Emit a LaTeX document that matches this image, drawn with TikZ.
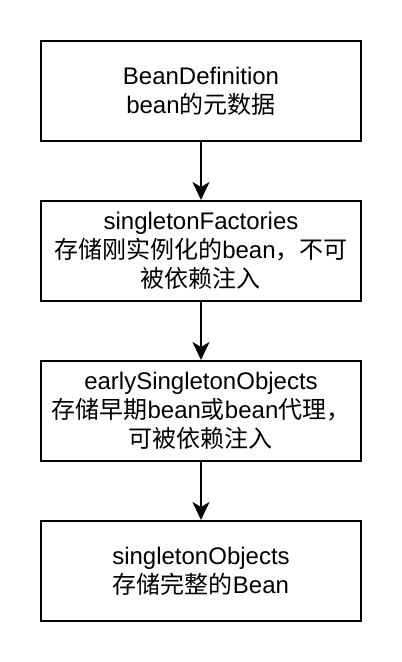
\documentclass[tikz,border=0pt]{standalone}
\usepackage{fontspec}
\setmainfont{Liberation Sans}
\newfontfamily\cjk{Noto Sans CJK SC}
\usetikzlibrary{arrows.meta}
\tikzset{
  box/.style={draw, line width=2pt, minimum width=320pt, minimum height=100pt,
    inner sep=0pt, align=center, font=\fontsize{24pt}{28.8pt}\selectfont},
  arr/.style={line width=2pt, -{Stealth[length=18pt, width=17pt, inset=5pt]}}
}
\begin{document}
\begin{tikzpicture}[x=1pt,y=-1pt]
\useasboundingbox (0,0) rectangle (402,662);
\fill[white] (0,0) rectangle (402,662);
\node[box] (b1) at (201,91) {BeanDefinition\\bean{\cjk 的元数据}};
\node[box] (b2) at (201,251) {singletonFactories\\{\cjk 存储刚实例化的}bean{\cjk ，不可}\\{\cjk 被依赖注入}};
\node[box] (b3) at (201,411) {earlySingletonObjects\\{\cjk 存储早期}bean{\cjk 或}bean{\cjk 代理，}\\{\cjk 可被依赖注入}};
\node[box] (b4) at (201,571) {singletonObjects\\{\cjk 存储完整的}Bean};
\draw[arr] (b1) -- (b2);
\draw[arr] (b2) -- (b3);
\draw[arr] (b3) -- (b4);
\end{tikzpicture}
\end{document}
